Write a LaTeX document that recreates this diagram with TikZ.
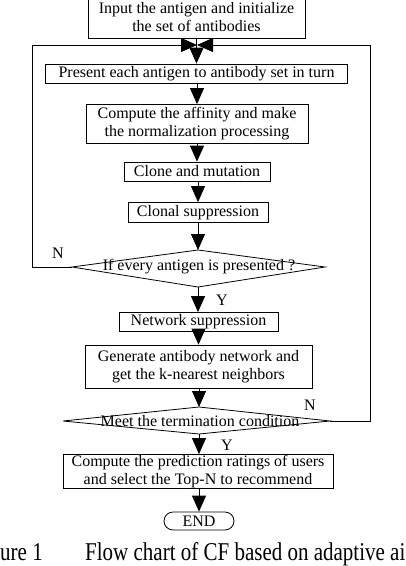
\documentclass[tikz,border=0pt]{standalone}
\usepackage{fontspec}
\setmainfont{Liberation Serif}
\usetikzlibrary{arrows.meta}
\begin{document}
\begin{tikzpicture}[x=1pt,y=-1pt,
  every node/.style={font=\fontsize{16}{18}\selectfont},
  box/.style={draw, line width=0.8pt, inner sep=0pt, align=center},
  arr/.style={line width=0.8pt, -{Triangle[length=16pt,width=14pt]}},
  ln/.style={line width=0.8pt},
  lbl/.style={inner sep=0pt},
  capt/.style={inner sep=0pt, font=\fontsize{21}{24}\selectfont, yscale=1.22, transform shape}]
\useasboundingbox (0,0) rectangle (406,566);
\clip (0,0) rectangle (406,566);
% boxes
\node[box, minimum width=217pt, minimum height=41pt] (b1) at (196.5,17.5) {Input the antigen and initialize\\the set of antibodies};
\node[box, minimum width=302pt, minimum height=19pt] (b2) at (196.5,73.5) {Present each antigen to antibody set in turn};
\node[box, minimum width=222pt, minimum height=39pt] (b3) at (197,124) {Compute the affinity and make\\the normalization processing};
\node[box, minimum width=146pt, minimum height=19pt] (b4) at (197,171.5) {Clone and mutation};
\node[box, minimum width=140pt, minimum height=20pt] (b5) at (198,212.5) {Clonal suppression};
% diamond 1
\coordinate (d1t) at (198,250);
\coordinate (d1l) at (72,267);
\coordinate (d1r) at (325,267);
\coordinate (d1b) at (198,287);
\draw[ln] (d1t) -- (d1r) -- (d1b) -- (d1l) -- cycle;
\node[lbl] (d1) at (199,267) {If every antigen is presented ?};
\node[box, minimum width=159pt, minimum height=19pt] (b6) at (198.5,322) {Network suppression};
\node[box, minimum width=227pt, minimum height=43pt] (b7) at (198.5,366.5) {Generate antibody network and\\get the k-nearest neighbors};
% diamond 2
\coordinate (d2t) at (199,407);
\coordinate (d2l) at (63,421);
\coordinate (d2r) at (330,421);
\coordinate (d2b) at (199,434);
\draw[ln] (d2t) -- (d2r) -- (d2b) -- (d2l) -- cycle;
\node[lbl] (d2) at (200,421) {Meet the termination condition};
\node[box, minimum width=270pt, minimum height=34pt] (b8) at (198,471.5) {Compute the prediction ratings of users\\and select the Top-N to recommend};
\node[box, minimum width=70pt, minimum height=18pt, rounded corners=9pt] (end) at (199,521) {END};
% labels
\node[lbl] (n1) at (58,253) {N};
\node[lbl] (n2) at (310,405) {N};
\node[lbl] (y1) at (222,300) {Y};
\node[lbl] (y2) at (227,445) {Y};
% caption
\node[capt, anchor=base west] (cap1) at (0,560) {ure 1};
\node[capt, anchor=base west] (cap2) at (85,560) {Flow chart of CF based on adaptive ai};
% connectors
\coordinate (j) at (197,45);
\coordinate (lcorner) at (32,45);
\coordinate (rcorner) at (370,45);
\draw[arr] (b1.south) -- (b1.south |- b2.north);
\draw[arr] (b2.south -| b3) -- (b3.north);
\draw[arr] (b3.south) -- (b3.south |- b4.north);
\draw[arr] (b4.south -| b5) -- (b5.north);
\draw[arr] (b5.south) -- (d1t);
\draw[arr] (d1b) -- (d1b |- b6.north);
\draw[arr] (b6.south) -- (b6.south |- b7.north);
\draw[arr] (b7.south -| d2t) -- (d2t);
\draw[arr] (d2b) -- (d2b |- b8.north);
\draw[arr] (b8.south -| end) -- (end.north);
\draw[arr] (d1l) -| (lcorner) -- (j);
\draw[arr] (d2r) -| (rcorner) -- (j);
\end{tikzpicture}
\end{document}
